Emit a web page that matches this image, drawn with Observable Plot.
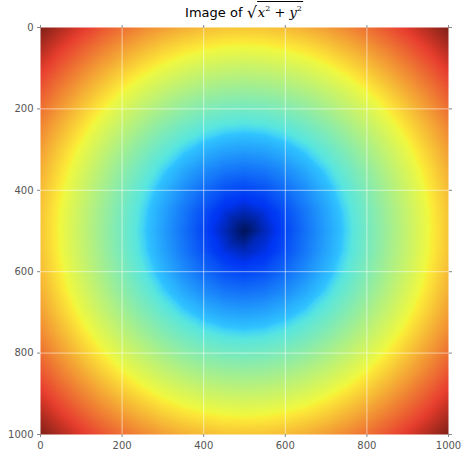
<!DOCTYPE html>
<html>
<head>
<meta charset="utf-8">
<script src="https://cdn.jsdelivr.net/npm/d3@7"></script>
<script src="https://cdn.jsdelivr.net/npm/@observablehq/plot@0.6"></script>
<style>
  body { margin: 0; background: #fff; }
  #title { height: 18px; width: 474px; position: relative; font-family: "DejaVu Sans", sans-serif; font-size: 13px; color: #000; }
  #title .inner { position: absolute; left: 244px; top: 1px; transform: translateX(-50%); white-space: nowrap; }
  .rad { font-family: "DejaVu Sans"; font-size: 16px; position: relative; top: 1px; }
  .under { border-top: 1px solid #000; font-family: "DejaVu Serif", serif; font-style: italic; padding: 0 1px; display: inline-block; line-height: 15px; }
  .under sup { font-size: 8px; font-style: normal; position: relative; top: -1px; }
</style>
</head>
<body>
<div id="title"><span class="inner">Image of <span class="rad">√</span><span class="under">x<sup>2</sup> + y<sup>2</sup></span></span></div>
<div id="chart"></div>
<script>
// sample positions (image pixel coordinates) along each axis
const gridPos = [0,50,100,150,200,250,300,350,400,450,500,550,600,650,700,750,800,850,900,950,1000];
// values read at those positions, one row per y position (top to bottom)
const row00 = [7.07,6.73,6.40,6.10,5.83,5.59,5.39,5.22,5.10,5.02,5.00,5.02,5.10,5.22,5.39,5.59,5.83,6.10,6.40,6.73,7.07];
const row01 = [6.73,6.36,6.02,5.70,5.41,5.15,4.92,4.74,4.61,4.53,4.50,4.53,4.61,4.74,4.92,5.15,5.41,5.70,6.02,6.36,6.73];
const row02 = [6.40,6.02,5.66,5.32,5.00,4.72,4.47,4.27,4.12,4.03,4.00,4.03,4.12,4.27,4.47,4.72,5.00,5.32,5.66,6.02,6.40];
const row03 = [6.10,5.70,5.32,4.95,4.61,4.30,4.03,3.81,3.64,3.54,3.50,3.54,3.64,3.81,4.03,4.30,4.61,4.95,5.32,5.70,6.10];
const row04 = [5.83,5.41,5.00,4.61,4.24,3.91,3.61,3.35,3.16,3.04,3.00,3.04,3.16,3.35,3.61,3.91,4.24,4.61,5.00,5.41,5.83];
const row05 = [5.59,5.15,4.72,4.30,3.91,3.54,3.20,2.92,2.69,2.55,2.50,2.55,2.69,2.92,3.20,3.54,3.91,4.30,4.72,5.15,5.59];
const row06 = [5.39,4.92,4.47,4.03,3.61,3.20,2.83,2.50,2.24,2.06,2.00,2.06,2.24,2.50,2.83,3.20,3.61,4.03,4.47,4.92,5.39];
const row07 = [5.22,4.74,4.27,3.81,3.35,2.92,2.50,2.12,1.80,1.58,1.50,1.58,1.80,2.12,2.50,2.92,3.35,3.81,4.27,4.74,5.22];
const row08 = [5.10,4.61,4.12,3.64,3.16,2.69,2.24,1.80,1.41,1.12,1.00,1.12,1.41,1.80,2.24,2.69,3.16,3.64,4.12,4.61,5.10];
const row09 = [5.02,4.53,4.03,3.54,3.04,2.55,2.06,1.58,1.12,0.71,0.50,0.71,1.12,1.58,2.06,2.55,3.04,3.54,4.03,4.53,5.02];
const row10 = [5.00,4.50,4.00,3.50,3.00,2.50,2.00,1.50,1.00,0.50,0.00,0.50,1.00,1.50,2.00,2.50,3.00,3.50,4.00,4.50,5.00];
const row11 = [5.02,4.53,4.03,3.54,3.04,2.55,2.06,1.58,1.12,0.71,0.50,0.71,1.12,1.58,2.06,2.55,3.04,3.54,4.03,4.53,5.02];
const row12 = [5.10,4.61,4.12,3.64,3.16,2.69,2.24,1.80,1.41,1.12,1.00,1.12,1.41,1.80,2.24,2.69,3.16,3.64,4.12,4.61,5.10];
const row13 = [5.22,4.74,4.27,3.81,3.35,2.92,2.50,2.12,1.80,1.58,1.50,1.58,1.80,2.12,2.50,2.92,3.35,3.81,4.27,4.74,5.22];
const row14 = [5.39,4.92,4.47,4.03,3.61,3.20,2.83,2.50,2.24,2.06,2.00,2.06,2.24,2.50,2.83,3.20,3.61,4.03,4.47,4.92,5.39];
const row15 = [5.59,5.15,4.72,4.30,3.91,3.54,3.20,2.92,2.69,2.55,2.50,2.55,2.69,2.92,3.20,3.54,3.91,4.30,4.72,5.15,5.59];
const row16 = [5.83,5.41,5.00,4.61,4.24,3.91,3.61,3.35,3.16,3.04,3.00,3.04,3.16,3.35,3.61,3.91,4.24,4.61,5.00,5.41,5.83];
const row17 = [6.10,5.70,5.32,4.95,4.61,4.30,4.03,3.81,3.64,3.54,3.50,3.54,3.64,3.81,4.03,4.30,4.61,4.95,5.32,5.70,6.10];
const row18 = [6.40,6.02,5.66,5.32,5.00,4.72,4.47,4.27,4.12,4.03,4.00,4.03,4.12,4.27,4.47,4.72,5.00,5.32,5.66,6.02,6.40];
const row19 = [6.73,6.36,6.02,5.70,5.41,5.15,4.92,4.74,4.61,4.53,4.50,4.53,4.61,4.74,4.92,5.15,5.41,5.70,6.02,6.36,6.73];
const row20 = [7.07,6.73,6.40,6.10,5.83,5.59,5.39,5.22,5.10,5.02,5.00,5.02,5.10,5.22,5.39,5.59,5.83,6.10,6.40,6.73,7.07];
const rows = [row00,row01,row02,row03,row04,row05,row06,row07,row08,row09,row10,row11,row12,row13,row14,row15,row16,row17,row18,row19,row20];
const tickValues = [0,200,400,600,800,1000];
const gridValues = [200,400,600,800];
const vmin = 0, vmax = 7.07;

// build sample table
const samples = [];
rows.forEach((r, i) => r.forEach((v, j) => samples.push({x: gridPos[j], y: gridPos[i], v})));

// jet-like colormap stops (as they appear in the reference)
const jetT = [0,0.11,0.125,0.34,0.35,0.375,0.64,0.65,0.66,0.89,0.91,1];
const jetC = ["#00145a","#0034f0","#003af4","#30c4ff","#40d2f8","#58e6e0","#f0f840","#f8f038","#fce838","#e84030","#d83828","#802018"];

const chart = Plot.plot({
  width: 474,
  height: 442,
  marginTop: 9,
  marginLeft: 40,
  marginRight: 26,
  marginBottom: 26,
  style: {fontFamily: "DejaVu Sans, sans-serif", fontSize: "10px", color: "#555"},
  x: {domain: [0, 1000], ticks: tickValues, label: null},
  y: {domain: [0, 1000], reverse: true, ticks: tickValues, label: null},
  color: {type: "linear", domain: jetT.map(t => vmin + t * (vmax - vmin)), range: jetC, clamp: true},
  marks: [
    Plot.raster(samples, {x: "x", y: "y", fill: "v", x1: 0, x2: 1000, y1: 0, y2: 1000, interpolate: "barycentric"}),
    Plot.gridX(gridValues, {stroke: "#fff", strokeOpacity: 0.55, strokeWidth: 1}),
    Plot.gridY(gridValues, {stroke: "#fff", strokeOpacity: 0.55, strokeWidth: 1}),
    Plot.axisX(tickValues, {anchor: "bottom", tickSize: 3, tickPadding: 4, stroke: "#888", fill: "#555", tickFormat: d3.format("d")}),
    Plot.axisX(tickValues, {anchor: "top", tickSize: 3, tickFormat: () => "", stroke: "#888"}),
    Plot.axisY(tickValues, {anchor: "left", tickSize: 3, tickPadding: 4, stroke: "#888", fill: "#555", tickFormat: d3.format("d")}),
    Plot.axisY(tickValues, {anchor: "right", tickSize: 3, tickFormat: () => "", stroke: "#888"})
  ]
});
document.getElementById("chart").appendChild(chart);
</script>
</body>
</html>
